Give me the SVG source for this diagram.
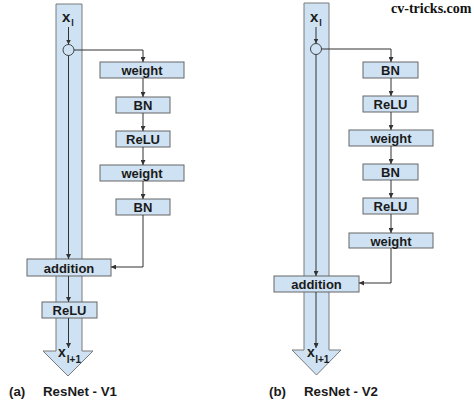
<svg xmlns="http://www.w3.org/2000/svg" width="474" height="410" viewBox="0 0 474 410">
<style>
.bar{fill:#cfe2f3;stroke:#7a7a7a;stroke-width:1}
.box{fill:#cfe2f3;stroke:#666;stroke-width:1}
.lbl{font-family:"Liberation Sans",Arial,sans-serif;font-weight:bold;font-size:13px;fill:#1a1a1a;text-anchor:middle}
.var{font-family:"Liberation Sans",Arial,sans-serif;font-weight:bold;fill:#1a1a1a}
.cap{font-family:"Liberation Sans",Arial,sans-serif;font-weight:bold;font-size:13.3px;fill:#1a1a1a}
.wm{font-family:"Liberation Serif","Times New Roman",serif;font-weight:bold;font-size:14px;fill:#111}
.ln{fill:none;stroke:#333;stroke-width:1}
.circ{fill:#cfe2f3;stroke:#444;stroke-width:1}
</style>
<defs>
<marker id="ah" viewBox="0 0 6 6" refX="6" refY="3" markerWidth="5" markerHeight="5" orient="auto" markerUnits="userSpaceOnUse">
<path d="M0,0 L6,3 L0,6 Z" fill="#333"/>
</marker>
</defs>
<rect width="474" height="410" fill="#fff"/>

<g id="bar-a">
<polygon class="bar" points="56,4 82,4 82,351 93,351 68,376 43,351 56,351"/>
<text class="var" x="62" y="22" font-size="15">x<tspan font-size="9" dx="1" dy="4">l</tspan></text>
<text class="var" x="58" y="357" font-size="14">x<tspan font-size="10" dx="1" dy="6">l+1</tspan></text>
</g>
<g id="bar-b">
<polygon class="bar" points="304,3 329,3 329,350 341,350 316.5,375 292,350 304,350"/>
<text class="var" x="310" y="22" font-size="15">x<tspan font-size="9" dx="1" dy="4">l</tspan></text>
<text class="var" x="307" y="357" font-size="14">x<tspan font-size="10" dx="1" dy="-6">'</tspan><tspan font-size="10" dx="-3" dy="12">l+1</tspan></text>
</g>

<g id="split-a"><circle class="circ" cx="68.5" cy="50" r="5.5"/></g>
<g id="split-b"><circle class="circ" cx="316" cy="49" r="5.5"/></g>

<g id="a-weight1"><rect class="box" x="100" y="62" width="84" height="16"/><text class="lbl" x="142" y="75">weight</text></g>
<g id="a-bn1"><rect class="box" x="116" y="97" width="54" height="16"/><text class="lbl" x="143" y="110">BN</text></g>
<g id="a-relu1"><rect class="box" x="116" y="131" width="54" height="16"/><text class="lbl" x="143" y="144">ReLU</text></g>
<g id="a-weight2"><rect class="box" x="100" y="165" width="84" height="16"/><text class="lbl" x="142" y="178">weight</text></g>
<g id="a-bn2"><rect class="box" x="116" y="199" width="54" height="16"/><text class="lbl" x="143" y="212">BN</text></g>
<g id="a-addition"><rect class="box" x="27" y="259" width="84" height="17"/><text class="lbl" x="69" y="272.5">addition</text></g>
<g id="a-relu2"><rect class="box" x="42" y="302" width="55" height="16"/><text class="lbl" x="69.5" y="315">ReLU</text></g>

<g id="b-bn1"><rect class="box" x="363" y="62" width="55" height="16"/><text class="lbl" x="390.5" y="75">BN</text></g>
<g id="b-relu1"><rect class="box" x="363" y="96" width="55" height="16"/><text class="lbl" x="390.5" y="109">ReLU</text></g>
<g id="b-weight1"><rect class="box" x="349" y="130" width="84" height="16"/><text class="lbl" x="391" y="143">weight</text></g>
<g id="b-bn2"><rect class="box" x="363" y="164" width="55" height="16"/><text class="lbl" x="390.5" y="177">BN</text></g>
<g id="b-relu2"><rect class="box" x="363" y="198" width="55" height="16"/><text class="lbl" x="390.5" y="211">ReLU</text></g>
<g id="b-weight2"><rect class="box" x="349" y="233" width="84" height="15"/><text class="lbl" x="391" y="245.5">weight</text></g>
<g id="b-addition"><rect class="box" x="274" y="276" width="85" height="16"/><text class="lbl" x="316.5" y="289">addition</text></g>

<g id="connectors">
<line class="ln" x1="68.5" y1="27" x2="68.5" y2="44.5" marker-end="url(#ah)"/>
<polyline class="ln" points="74,50 143,50 143,62" marker-end="url(#ah)"/>
<line class="ln" x1="143" y1="78" x2="143" y2="97" marker-end="url(#ah)"/>
<line class="ln" x1="143" y1="113" x2="143" y2="131" marker-end="url(#ah)"/>
<line class="ln" x1="143" y1="147" x2="143" y2="165" marker-end="url(#ah)"/>
<line class="ln" x1="143" y1="181" x2="143" y2="199" marker-end="url(#ah)"/>
<polyline class="ln" points="143,215 143,267 111,267" marker-end="url(#ah)"/>
<line class="ln" x1="68.5" y1="55.5" x2="68.5" y2="259" marker-end="url(#ah)"/>
<line class="ln" x1="68.5" y1="276" x2="68.5" y2="302" marker-end="url(#ah)"/>
<line class="ln" x1="68.5" y1="318" x2="68.5" y2="348" marker-end="url(#ah)"/>

<line class="ln" x1="316" y1="27" x2="316" y2="43.5" marker-end="url(#ah)"/>
<polyline class="ln" points="321.5,49 391,49 391,62" marker-end="url(#ah)"/>
<line class="ln" x1="391" y1="78" x2="391" y2="96" marker-end="url(#ah)"/>
<line class="ln" x1="391" y1="112" x2="391" y2="130" marker-end="url(#ah)"/>
<line class="ln" x1="391" y1="146" x2="391" y2="164" marker-end="url(#ah)"/>
<line class="ln" x1="391" y1="180" x2="391" y2="198" marker-end="url(#ah)"/>
<line class="ln" x1="391" y1="214" x2="391" y2="233" marker-end="url(#ah)"/>
<polyline class="ln" points="391,248 391,283 359,283" marker-end="url(#ah)"/>
<line class="ln" x1="316" y1="54.5" x2="316" y2="276" marker-end="url(#ah)"/>
<line class="ln" x1="316" y1="292" x2="316" y2="348" marker-end="url(#ah)"/>
</g>

<text class="cap" x="9" y="396">(a)</text>
<text class="cap" x="43" y="396">ResNet - V1</text>
<text class="cap" x="269" y="396">(b)</text>
<text class="cap" x="304" y="396">ResNet - V2</text>
<text class="wm" x="391" y="13">cv-tricks.com</text>
</svg>
